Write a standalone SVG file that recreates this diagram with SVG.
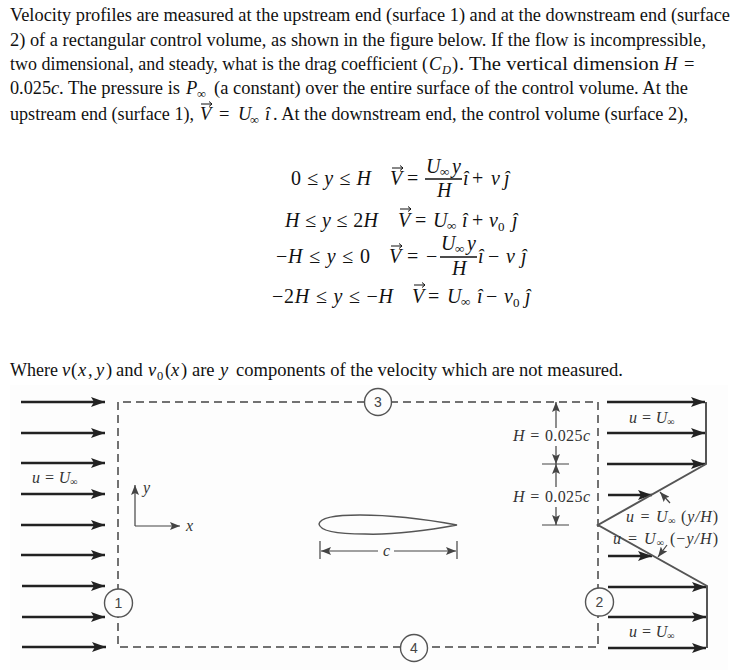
<svg xmlns="http://www.w3.org/2000/svg" width="738" height="672" viewBox="0 0 738 672">
<style>
.p{font-family:"Liberation Serif",serif;font-size:18.500px;fill:#111}
.i{font-style:italic}
.p.s{font-size:12.500px}
.m{font-family:"Liberation Serif",serif;font-size:20px;fill:#111;font-style:italic}
.m.s{font-size:13px}
.r{font-style:normal}
.m.r{font-style:normal}
.l{font-family:"Liberation Serif",serif;font-size:16px;fill:#333;font-style:italic}
.u{font-size:10px}
.f{stroke:#222;stroke-width:2.6;fill:none}
.t{stroke:#444;stroke-width:1.2;fill:none}
.d{stroke:#444;stroke-width:1.5;fill:none;stroke-dasharray:8 5}
.c{fill:#fdfdfd;stroke:#555;stroke-width:1.4}
.n{font-family:"Liberation Sans",sans-serif;font-size:14px;fill:#444;text-anchor:middle}
.ar{stroke:#111;stroke-width:1;fill:none}
</style>
<defs>
<marker id="a" markerUnits="userSpaceOnUse" markerWidth="14" markerHeight="10" refX="14" refY="5" orient="auto"><path d="M0 0L14 5L0 10L3 5Z" fill="#222"/></marker>
<marker id="b" markerUnits="userSpaceOnUse" markerWidth="10" markerHeight="8" refX="10" refY="4" orient="auto"><path d="M0 0L10 4L0 8L2 4Z" fill="#444"/></marker>
<path id="v" d="M0 0H11M8 -2.500L11 0L8 2.500" class="ar"/>
</defs>
<rect x="10" y="385" width="718" height="285" fill="#fdfdfd"/>
<g id="text">
<text class="p" x="10" y="21" textLength="720" lengthAdjust="spacingAndGlyphs">Velocity profiles are measured at the upstream end (surface 1) and at the downstream end (surface</text>
<text class="p" x="10" y="46" textLength="696" lengthAdjust="spacingAndGlyphs">2) of a rectangular control volume, as shown in the figure below. If the flow is incompressible,</text>
<text class="p" x="10" y="70" textLength="418" lengthAdjust="spacingAndGlyphs">two dimensional, and steady, what is the drag coefficient (</text>
<text class="p i" x="429" y="70">C</text><text class="p i s" x="442" y="74">D</text><text class="p" x="452" y="70">)</text>
<text class="p" x="459" y="70" textLength="200" lengthAdjust="spacingAndGlyphs">. The vertical dimension</text>
<text class="p i" x="664" y="70">H</text><text class="p" x="684" y="70">=</text>
<text class="p" x="10" y="94" textLength="41" lengthAdjust="spacingAndGlyphs">0.025</text><text class="p i" x="51" y="94">c</text>
<text class="p" x="59" y="94" textLength="121" lengthAdjust="spacingAndGlyphs">. The pressure is</text>
<text class="p i" x="186" y="94">P</text><text class="p s" x="197" y="98">∞</text>
<text class="p" x="214" y="94" textLength="474" lengthAdjust="spacingAndGlyphs">(a constant) over the entire surface of the control volume. At the</text>
<text class="p" x="10" y="120" textLength="184" lengthAdjust="spacingAndGlyphs">upstream end (surface 1),</text>
<text class="p i" x="200" y="120">V</text><use href="#v" x="201" y="104"/><text class="p" x="219" y="120">=</text>
<text class="p i" x="238" y="120">U</text><text class="p s" x="250" y="124">∞</text><text class="p i" x="265" y="120">î</text>
<text class="p" x="273" y="120" textLength="415" lengthAdjust="spacingAndGlyphs">. At the downstream end, the control volume (surface 2),</text>
<text class="p" x="10" y="376" textLength="48" lengthAdjust="spacingAndGlyphs">Where</text>
<text class="p i" x="62" y="376">v</text><text class="p" x="71" y="376">(</text><text class="p i" x="78" y="376">x</text><text class="p" x="88" y="376">,</text><text class="p i" x="96" y="376">y</text><text class="p" x="106" y="376">)</text>
<text class="p" x="116" y="376">and</text>
<text class="p i" x="148" y="376">v</text><text class="p s" x="157" y="380">0</text><text class="p" x="165" y="376">(</text><text class="p i" x="171" y="376">x</text><text class="p" x="181" y="376">)</text>
<text class="p" x="192" y="376">are</text><text class="p i" x="220" y="376">y</text>
<text class="p" x="236" y="376" textLength="387" lengthAdjust="spacingAndGlyphs">components of the velocity which are not measured.</text>
</g>
<g id="equations">
<text class="m" x="291" y="185" textLength="80"><tspan class="r">0 ≤ </tspan>y<tspan class="r"> ≤ </tspan>H</text>
<text class="m" x="390" y="185">V</text><use href="#v" x="392" y="168"/><text class="m r" x="407" y="185">=</text>
<text class="m" x="426" y="173">U</text><text class="m s" x="440" y="176">∞</text><text class="m" x="452" y="173">y</text>
<path d="M425 179H462" stroke="#111" stroke-width="1.3"/>
<text class="m" x="437" y="197">H</text>
<text class="m" x="463" y="185">î</text><text class="m r" x="472" y="185">+</text><text class="m" x="491" y="185">v</text><text class="m" x="504" y="185">ĵ</text>

<text class="m" x="285" y="227" textLength="93">H<tspan class="r"> ≤ </tspan>y<tspan class="r"> ≤ 2</tspan>H</text>
<text class="m" x="398" y="227">V</text><use href="#v" x="400" y="209"/><text class="m r" x="415" y="227">=</text>
<text class="m" x="433" y="227">U</text><text class="m s" x="447" y="230">∞</text><text class="m" x="462" y="227">î</text><text class="m r" x="472" y="227">+</text><text class="m" x="489" y="227">v</text><text class="m r s" x="498" y="231">0</text><text class="m" x="512" y="227">ĵ</text>

<text class="m" x="276" y="263" textLength="94"><tspan class="r">−</tspan>H<tspan class="r"> ≤ </tspan>y<tspan class="r"> ≤ 0</tspan></text>
<text class="m" x="389" y="263">V</text><use href="#v" x="391" y="246"/><text class="m r" x="407" y="263">=</text><text class="m r" x="426" y="263">−</text>
<text class="m" x="441" y="250">U</text><text class="m s" x="455" y="253">∞</text><text class="m" x="467" y="250">y</text>
<path d="M440 257H477" stroke="#111" stroke-width="1.3"/>
<text class="m" x="452" y="275">H</text>
<text class="m" x="478" y="263">î</text><text class="m r" x="488" y="263">−</text><text class="m" x="506" y="263">v</text><text class="m" x="521" y="263">ĵ</text>

<text class="m" x="272" y="303" textLength="121"><tspan class="r">−2</tspan>H<tspan class="r"> ≤ </tspan>y<tspan class="r"> ≤ −</tspan>H</text>
<text class="m" x="412" y="303">V</text><use href="#v" x="414" y="285"/><text class="m r" x="428" y="303">=</text>
<text class="m" x="447" y="303">U</text><text class="m s" x="461" y="306">∞</text><text class="m" x="477" y="303">î</text><text class="m r" x="486" y="303">−</text><text class="m" x="504" y="303">v</text><text class="m r s" x="513" y="307">0</text><text class="m" x="525" y="303">ĵ</text>
</g>
<g id="connectors">
<path class="f" marker-end="url(#a)" d="M21 402H105"/>
<path class="f" marker-end="url(#a)" d="M21 433H105"/>
<path class="f" marker-end="url(#a)" d="M21 463H105"/>
<path class="f" marker-end="url(#a)" d="M21 494H105"/>
<path class="f" marker-end="url(#a)" d="M21 525H105"/>
<path class="f" marker-end="url(#a)" d="M21 555H105"/>
<path class="f" marker-end="url(#a)" d="M22 586H105"/>
<path class="f" marker-end="url(#a)" d="M22 617H105"/>
<path class="f" marker-end="url(#a)" d="M22 647H106"/>
<path class="f" marker-end="url(#a)" d="M607 402H705"/>
<path class="f" marker-end="url(#a)" d="M607 433H705"/>
<path class="f" marker-end="url(#a)" d="M607 464H705"/>
<path class="f" marker-end="url(#a)" d="M608 495H652"/>
<path class="f" marker-end="url(#a)" d="M608 556H652"/>
<path class="f" marker-end="url(#a)" d="M608 587H706"/>
<path class="f" marker-end="url(#a)" d="M608 617H706"/>
<path class="f" marker-end="url(#a)" d="M608 648H706"/>
<path class="d" d="M378 402H118V647H598V402H378"/>
<path stroke="#555" stroke-width="2" fill="none" d="M706 402V464L598 525L707 586V648"/>
<path class="t" marker-end="url(#b)" d="M135 526V485"/>
<path class="t" marker-end="url(#b)" d="M135 526H180"/>
<path class="t" marker-end="url(#b)" d="M378 551H321"/>
<path class="t" d="M320 541V559"/>
<path class="t" marker-end="url(#b)" d="M394 551H456"/>
<path class="t" d="M457 541V559"/>
<path class="t" marker-end="url(#b)" d="M556 428V402"/>
<path class="t" marker-end="url(#b)" d="M556 446V464"/>
<path class="t" marker-end="url(#b)" d="M556 487V464"/>
<path class="t" marker-end="url(#b)" d="M556 507V525"/>
<path class="t" d="M542 464H569M542 525H569"/>
<path class="t" marker-end="url(#b)" d="M670 503L660 492"/>
<path class="t" marker-end="url(#b)" d="M667 545L658 557"/>
</g>
<g id="airfoil"><path d="M319 524C320 517 340 515 360 515C395 515 430 520 457 525C430 530 395 535 365 534C340 534 320 532 319 524Z" fill="none" stroke="#555" stroke-width="1.5"/></g>
<g id="labels">
<text class="l" x="32" y="483">u = U<tspan class="u" dy="2">∞</tspan></text>
<text class="l" x="143" y="493">y</text>
<text class="l" x="186" y="531">x</text>
<text class="l" x="383" y="556">c</text>
<text class="l" x="513" y="441" textLength="77">H = <tspan class="r">0.025</tspan>c</text>
<text class="l" x="513" y="502" textLength="77">H = <tspan class="r">0.025</tspan>c</text>
<text class="l" x="629" y="423">u = U<tspan class="u" dy="2">∞</tspan></text>
<text class="l" x="626" y="522" textLength="92">u = U<tspan class="u" dy="2">∞</tspan><tspan class="r" dy="-2"> (</tspan>y/H<tspan class="r">)</tspan></text>
<text class="l" x="613" y="544" textLength="105">u = U<tspan class="u" dy="2">∞</tspan><tspan class="r" dy="-2"> (−</tspan>y/H<tspan class="r">)</tspan></text>
<text class="l" x="629" y="637">u = U<tspan class="u" dy="2">∞</tspan></text>
</g>
<g id="node-1"><circle class="c" cx="118.500" cy="603" r="14"/><text class="n" x="118.500" y="608">1</text></g>
<g id="node-2"><circle class="c" cx="599.500" cy="602" r="14"/><text class="n" x="599.500" y="607">2</text></g>
<g id="node-3"><circle class="c" cx="378" cy="402" r="13.500"/><text class="n" x="378" y="407">3</text></g>
<g id="node-4"><circle class="c" cx="414" cy="648" r="13.500"/><text class="n" x="414" y="653">4</text></g>
</svg>
